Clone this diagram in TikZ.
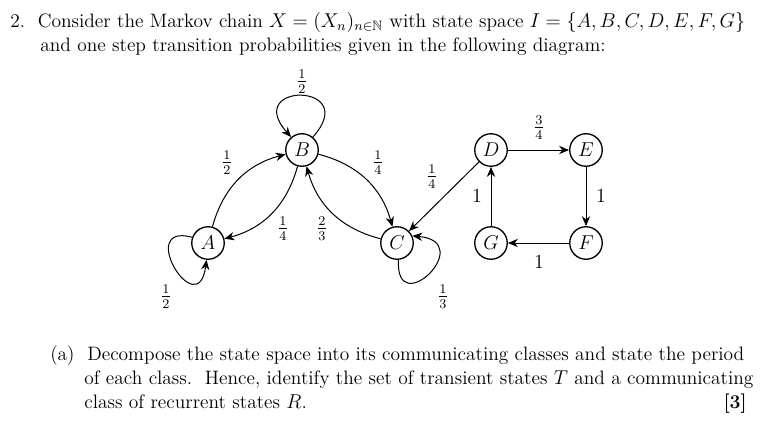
\documentclass[tikz,border=0pt]{standalone}
\usepackage{amssymb}
\usetikzlibrary{arrows.meta}
\begin{document}
\begin{tikzpicture}[x=0.6pt,y=-0.6pt,
  st/.style={circle,draw,thick,minimum size=19.5pt,inner sep=0pt,font=\fontsize{11.5}{14}\selectfont},
  ar/.style={-{Stealth[length=6pt,width=5pt]},semithick},
  lb/.style={inner sep=1pt,font=\fontsize{11.5}{14}\selectfont},
  txt/.style={anchor=base west,inner sep=0pt,font=\fontsize{11.65}{14}\selectfont}]
\useasboundingbox (0,0) rectangle (762,422);
\node[txt] (l1) at (10,27) {2.\ \ Consider the Markov chain $X=(X_n)_{n\in\mathbb N}$ with state space $I=\{A,B,C,D,E,F,G\}$};
\node[txt] (l2) at (40,51) {and one step transition probabilities given in the following diagram:};
\node[txt] (l3) at (50,360) {(a)\ \ Decompose the state space into its communicating classes and state the period};
\node[txt] (l4) at (84,384) {of each class.\ \ Hence, identify the set of transient states $T$ and a communicating};
\node[txt] (l5) at (84,408) {class of recurrent states $R$.};
\node[txt,anchor=base east] (l6) at (747,408) {\textbf{[3]}};
\node[st] (A) at (208,243) {$A$};
\node[st] (B) at (302,150) {$B$};
\node[st] (C) at (397,243) {$C$};
\node[st] (D) at (491,150) {$D$};
\node[st] (E) at (586,150) {$E$};
\node[st] (F) at (586,243) {$F$};
\node[st] (G) at (491,243) {$G$};
\draw[ar] (B.50) .. controls (362,82) and (242,82) .. (B.130);
\draw[ar] (A.160) .. controls (135,222) and (198,325) .. (A.265);
\draw[ar] (C.275) .. controls (395,322) and (478,242) .. (C.25);
\draw[ar] (A) to[bend left=30] (B);
\draw[ar] (B) to[bend left=30] (A);
\draw[ar] (B) to[bend left=30] (C);
\draw[ar] (C) to[bend left=30] (B);
\draw[ar] (D) -- (C);
\draw[ar] (D) -- (E);
\draw[ar] (E) -- (F);
\draw[ar] (F) -- (G);
\draw[ar] (G) -- (D);
\node[lb] (p1) at (302,82) {$\frac12$};
\node[lb] (p2) at (166,297) {$\frac12$};
\node[lb] (p3) at (443,297) {$\frac13$};
\node[lb] (p4) at (227,163) {$\frac12$};
\node[lb] (p5) at (283,229) {$\frac14$};
\node[lb] (p6) at (378,163) {$\frac14$};
\node[lb] (p7) at (322,229) {$\frac23$};
\node[lb] (p8) at (432,177) {$\frac14$};
\node[lb] (p9) at (539,128) {$\frac34$};
\node[lb] (p10) at (601,196) {$1$};
\node[lb] (p11) at (539,262) {$1$};
\node[lb] (p12) at (477,196) {$1$};
\end{tikzpicture}
\end{document}
